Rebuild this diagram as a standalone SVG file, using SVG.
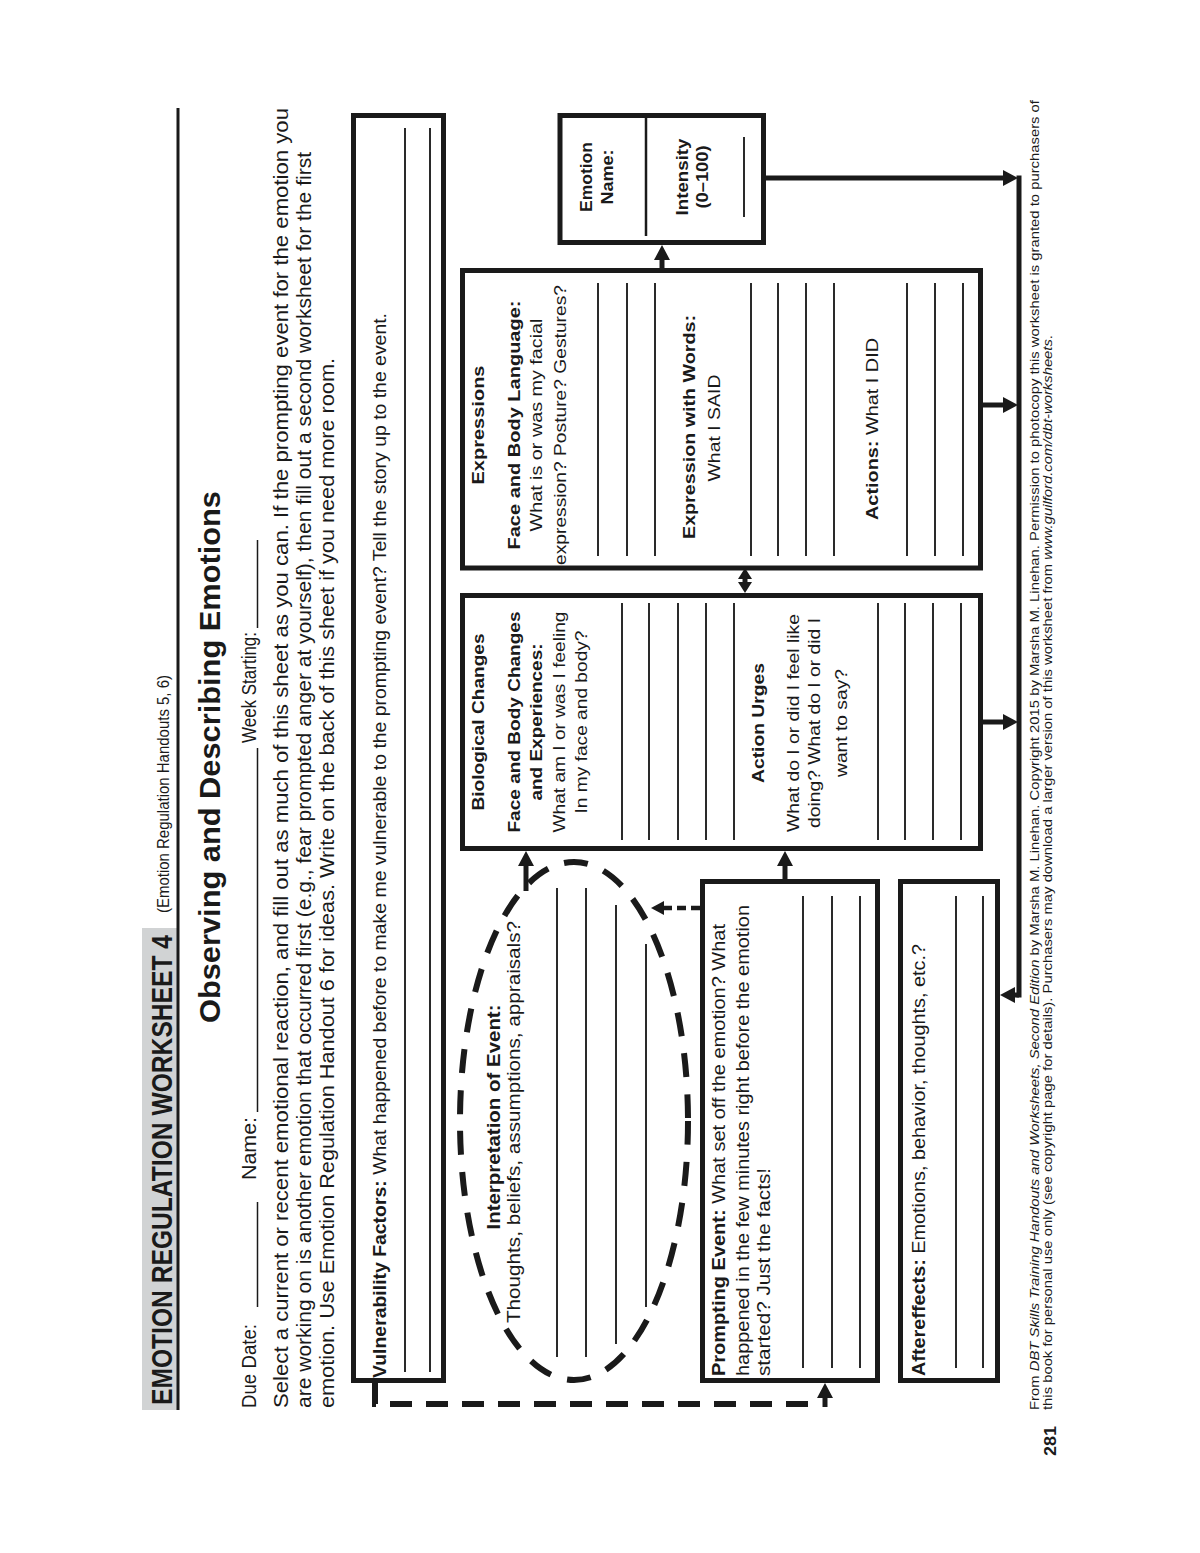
<svg xmlns="http://www.w3.org/2000/svg" width="1200" height="1553" viewBox="0 0 1200 1553">
<defs>
<marker id="ah" markerUnits="userSpaceOnUse" markerWidth="15" markerHeight="16" refX="0" refY="8" orient="auto-start-reverse" viewBox="0 0 15 16"><path d="M0,0 L15,8 L0,16 z" fill="#1a1a1a"/></marker>
<marker id="ah2" markerUnits="userSpaceOnUse" markerWidth="11" markerHeight="14" refX="0" refY="7" orient="auto-start-reverse" viewBox="0 0 11 14"><path d="M0,0 L11,7 L0,14 z" fill="#1a1a1a"/></marker>
<marker id="ahs" markerUnits="userSpaceOnUse" markerWidth="13" markerHeight="14" refX="0" refY="7" orient="auto" viewBox="0 0 13 14"><path d="M0,0 L13,7 L0,14 z" fill="#1a1a1a"/></marker>
</defs>
<style>
.t{font-family:"Liberation Sans",Arial,sans-serif;fill:#1a1a1a}
.b{font-weight:bold}
.i{font-style:italic}
.box{fill:#fff;stroke:#1a1a1a;stroke-width:5}
.wl{stroke:#2a2a2a;stroke-width:2}
.ul{stroke:#1a1a1a;stroke-width:1.5}
.c{fill:none;stroke:#1a1a1a;stroke-width:5}
</style>
<rect width="1200" height="1553" fill="#fff"/>

<g id="header">
<rect x="142" y="928" width="35" height="482" fill="#d1d3d4"/>
<line x1="178" y1="108" x2="178" y2="1410" stroke="#1a1a1a" stroke-width="3"/>
<text class="t b" font-size="30" transform="translate(172,1405) rotate(-90)" textLength="470" lengthAdjust="spacingAndGlyphs">EMOTION REGULATION WORKSHEET 4</text>
<text class="t" font-size="17" transform="translate(169,913) rotate(-90)" textLength="238" lengthAdjust="spacingAndGlyphs">(Emotion Regulation Handouts 5, 6)</text>
<text class="t b" font-size="29" text-anchor="middle" transform="translate(220,757) rotate(-90)" textLength="532" lengthAdjust="spacingAndGlyphs">Observing and Describing Emotions</text>
<text class="t" font-size="21" transform="translate(256,1408) rotate(-90)" textLength="84" lengthAdjust="spacingAndGlyphs">Due Date:</text>
<line class="ul" x1="257.5" y1="1307" x2="257.5" y2="1202"/>
<text class="t" font-size="21" transform="translate(256,1180) rotate(-90)" textLength="63" lengthAdjust="spacingAndGlyphs">Name:</text>
<line class="ul" x1="257.5" y1="1112" x2="257.5" y2="748"/>
<text class="t" font-size="21" transform="translate(256,743) rotate(-90)" textLength="111" lengthAdjust="spacingAndGlyphs">Week Starting:</text>
<line class="ul" x1="257.5" y1="628" x2="257.5" y2="540"/>
<text class="t" font-size="20" transform="translate(288,1408) rotate(-90)" textLength="1300" lengthAdjust="spacingAndGlyphs">Select a current or recent emotional reaction, and fill out as much of this sheet as you can. If the prompting event for the emotion you</text>
<text class="t" font-size="20" transform="translate(311,1408) rotate(-90)" textLength="1256" lengthAdjust="spacingAndGlyphs">are working on is another emotion that occurred first (e.g., fear prompted anger at yourself), then fill out a second worksheet for the first</text>
<text class="t" font-size="20" transform="translate(334,1408) rotate(-90)" textLength="1050" lengthAdjust="spacingAndGlyphs">emotion. Use Emotion Regulation Handout 6 for ideas. Write on the back of this sheet if you need more room.</text>
</g>

<g id="connectors">
<path d="M375,1383 V1404 H822" fill="none" stroke="#1a1a1a" stroke-width="6" stroke-dasharray="22 14"/>
<path d="M825,1407 V1398" class="c" marker-end="url(#ah)"/>
<path d="M700,908 H664" fill="none" stroke="#1a1a1a" stroke-width="4.5" stroke-dasharray="9 5" marker-end="url(#ahs)"/>
<path d="M526,891 V866" class="c" marker-end="url(#ah)"/>
<path d="M785,879 V866" class="c" marker-end="url(#ah)"/>
<path d="M745,579 V582" class="c" marker-start="url(#ah2)" marker-end="url(#ah2)"/>
<path d="M662,270 V260" class="c" marker-end="url(#ah)"/>
<path d="M766,178 H1003" class="c" marker-end="url(#ah)"/>
<path d="M1019,175.5 V997.5" class="c"/>
<path d="M983,405 H1003" class="c" marker-end="url(#ah)"/>
<path d="M983,722 H1003" class="c" marker-end="url(#ah)"/>
<path d="M1019,995 H1015" class="c" marker-end="url(#ah)"/>
</g>

<g id="vulnerability">
<rect class="box" x="353.5" y="115.5" width="90" height="1265"/>
<text class="t" font-size="18" transform="translate(386,1378) rotate(-90)" textLength="1065" lengthAdjust="spacingAndGlyphs"><tspan class="b">Vulnerability Factors:</tspan> What happened before to make me vulnerable to the prompting event? Tell the story up to the event.</text>
<line class="wl" x1="405" y1="128" x2="405" y2="1372"/>
<line class="wl" x1="430" y1="128" x2="430" y2="1372"/>
</g>

<g id="interpretation">
<ellipse cx="574" cy="1121" rx="114" ry="259" fill="none" stroke="#1a1a1a" stroke-width="6" stroke-dasharray="24 17"/>
<text class="t b" font-size="18" text-anchor="middle" transform="translate(500,1117) rotate(-90)" textLength="225" lengthAdjust="spacingAndGlyphs">Interpretation of Event:</text>
<text class="t" font-size="18" text-anchor="middle" transform="translate(520,1122) rotate(-90)" textLength="402" lengthAdjust="spacingAndGlyphs">Thoughts, beliefs, assumptions, appraisals?</text>
<line class="wl" x1="557" y1="888" x2="557" y2="1357"/>
<line class="wl" x1="586" y1="888" x2="586" y2="1357"/>
<line class="wl" x1="616" y1="905" x2="616" y2="1344"/>
<line class="wl" x1="646" y1="944" x2="646" y2="1307"/>
</g>

<g id="prompting">
<rect class="box" x="702.5" y="881.5" width="175" height="499"/>
<text class="t" font-size="18" transform="translate(725,1376) rotate(-90)" textLength="452" lengthAdjust="spacingAndGlyphs"><tspan class="b">Prompting Event:</tspan> What set off the emotion? What</text>
<text class="t" font-size="18" transform="translate(749,1376) rotate(-90)" textLength="471" lengthAdjust="spacingAndGlyphs">happened in the few minutes right before the emotion</text>
<text class="t" font-size="18" transform="translate(770,1376) rotate(-90)" textLength="208" lengthAdjust="spacingAndGlyphs">started? Just the facts!</text>
<line class="wl" x1="803" y1="896" x2="803" y2="1368"/>
<line class="wl" x1="832" y1="896" x2="832" y2="1368"/>
<line class="wl" x1="860" y1="896" x2="860" y2="1368"/>
</g>

<g id="aftereffects">
<rect class="box" x="900.5" y="881.5" width="97" height="499"/>
<text class="t" font-size="18" transform="translate(925,1376) rotate(-90)" textLength="432" lengthAdjust="spacingAndGlyphs"><tspan class="b">Aftereffects:</tspan> Emotions, behavior, thoughts, etc.?</text>
<line class="wl" x1="956" y1="896" x2="956" y2="1368"/>
<line class="wl" x1="983" y1="896" x2="983" y2="1368"/>
</g>

<g id="biological">
<rect class="box" x="462.5" y="595.5" width="518" height="253"/>
<text class="t b" font-size="17" text-anchor="middle" transform="translate(484,722) rotate(-90)" textLength="177" lengthAdjust="spacingAndGlyphs">Biological Changes</text>
<text class="t b" font-size="17" text-anchor="middle" transform="translate(520,722) rotate(-90)" textLength="221" lengthAdjust="spacingAndGlyphs">Face and Body Changes</text>
<text class="t b" font-size="17" text-anchor="middle" transform="translate(542,722) rotate(-90)" textLength="157" lengthAdjust="spacingAndGlyphs">and Experiences:</text>
<text class="t" font-size="17" text-anchor="middle" transform="translate(565,722) rotate(-90)" textLength="221" lengthAdjust="spacingAndGlyphs">What am I or was I feeling</text>
<text class="t" font-size="17" text-anchor="middle" transform="translate(587,722) rotate(-90)" textLength="183" lengthAdjust="spacingAndGlyphs">In my face and body?</text>
<line class="wl" x1="622" y1="603" x2="622" y2="840"/>
<line class="wl" x1="649" y1="603" x2="649" y2="840"/>
<line class="wl" x1="678" y1="603" x2="678" y2="840"/>
<line class="wl" x1="706" y1="603" x2="706" y2="840"/>
<line class="wl" x1="734" y1="603" x2="734" y2="840"/>
<text class="t b" font-size="17" text-anchor="middle" transform="translate(764,723) rotate(-90)" textLength="120" lengthAdjust="spacingAndGlyphs">Action Urges</text>
<text class="t" font-size="17" text-anchor="middle" transform="translate(799,723) rotate(-90)" textLength="218" lengthAdjust="spacingAndGlyphs">What do I or did I feel like</text>
<text class="t" font-size="17" text-anchor="middle" transform="translate(820,723) rotate(-90)" textLength="210" lengthAdjust="spacingAndGlyphs">doing? What do I or did I</text>
<text class="t" font-size="17" text-anchor="middle" transform="translate(847,723) rotate(-90)" textLength="108" lengthAdjust="spacingAndGlyphs">want to say?</text>
<line class="wl" x1="878" y1="603" x2="878" y2="840"/>
<line class="wl" x1="905" y1="603" x2="905" y2="840"/>
<line class="wl" x1="933" y1="603" x2="933" y2="840"/>
<line class="wl" x1="961" y1="603" x2="961" y2="840"/>
</g>

<g id="expressions">
<rect class="box" x="462.5" y="270.5" width="518" height="297.5"/>
<text class="t b" font-size="17" text-anchor="middle" transform="translate(484,425) rotate(-90)" textLength="119" lengthAdjust="spacingAndGlyphs">Expressions</text>
<text class="t b" font-size="17" text-anchor="middle" transform="translate(520,425) rotate(-90)" textLength="249" lengthAdjust="spacingAndGlyphs">Face and Body Language:</text>
<text class="t" font-size="17" text-anchor="middle" transform="translate(542,425) rotate(-90)" textLength="213" lengthAdjust="spacingAndGlyphs">What is or was my facial</text>
<text class="t" font-size="17" text-anchor="middle" transform="translate(566,425) rotate(-90)" textLength="280" lengthAdjust="spacingAndGlyphs">expression? Posture? Gestures?</text>
<line class="wl" x1="598" y1="283" x2="598" y2="556"/>
<line class="wl" x1="627" y1="283" x2="627" y2="556"/>
<line class="wl" x1="655" y1="283" x2="655" y2="556"/>
<text class="t b" font-size="17" text-anchor="middle" transform="translate(695,427) rotate(-90)" textLength="224" lengthAdjust="spacingAndGlyphs">Expression with Words:</text>
<text class="t" font-size="17" text-anchor="middle" transform="translate(720,428) rotate(-90)" textLength="107" lengthAdjust="spacingAndGlyphs">What I SAID</text>
<line class="wl" x1="751" y1="283" x2="751" y2="556"/>
<line class="wl" x1="778" y1="283" x2="778" y2="556"/>
<line class="wl" x1="806" y1="283" x2="806" y2="556"/>
<line class="wl" x1="834" y1="283" x2="834" y2="556"/>
<text class="t" font-size="17" text-anchor="middle" transform="translate(878,429) rotate(-90)" textLength="182" lengthAdjust="spacingAndGlyphs"><tspan class="b">Actions:</tspan> What I DID</text>
<line class="wl" x1="907" y1="283" x2="907" y2="556"/>
<line class="wl" x1="935" y1="283" x2="935" y2="556"/>
<line class="wl" x1="963" y1="283" x2="963" y2="556"/>
</g>

<g id="emotion">
<rect class="box" x="560" y="115.5" width="203.5" height="127"/>
<line x1="646" y1="118" x2="646" y2="236" stroke="#1a1a1a" stroke-width="2.5"/>
<text class="t b" font-size="17" text-anchor="middle" transform="translate(592,177) rotate(-90)" textLength="70" lengthAdjust="spacingAndGlyphs">Emotion</text>
<text class="t b" font-size="17" text-anchor="middle" transform="translate(613,177) rotate(-90)" textLength="55" lengthAdjust="spacingAndGlyphs">Name:</text>
<text class="t b" font-size="17" text-anchor="middle" transform="translate(688,177) rotate(-90)" textLength="77" lengthAdjust="spacingAndGlyphs">Intensity</text>
<text class="t b" font-size="17" text-anchor="middle" transform="translate(708,177) rotate(-90)" textLength="63" lengthAdjust="spacingAndGlyphs">(0–100)</text>
<line class="wl" x1="744" y1="137" x2="744" y2="217"/>
</g>

<g id="footer">
<text class="t" font-size="12" transform="translate(1039,1410) rotate(-90)" textLength="1310" lengthAdjust="spacingAndGlyphs">From <tspan class="i">DBT Skills Training Handouts and Worksheets, Second Edition</tspan> by Marsha M. Linehan. Copyright 2015 by Marsha M. Linehan. Permission to photocopy this worksheet is granted to purchasers of</text>
<text class="t" font-size="12" transform="translate(1052,1410) rotate(-90)" textLength="1075" lengthAdjust="spacingAndGlyphs">this book for personal use only (see copyright page for details). Purchasers may download a larger version of this worksheet from <tspan class="i">www.guilford.com/dbt-worksheets</tspan>.</text>
<text class="t b" font-size="16" transform="translate(1056,1456) rotate(-90)" textLength="30" lengthAdjust="spacingAndGlyphs">281</text>
</g>
</svg>
